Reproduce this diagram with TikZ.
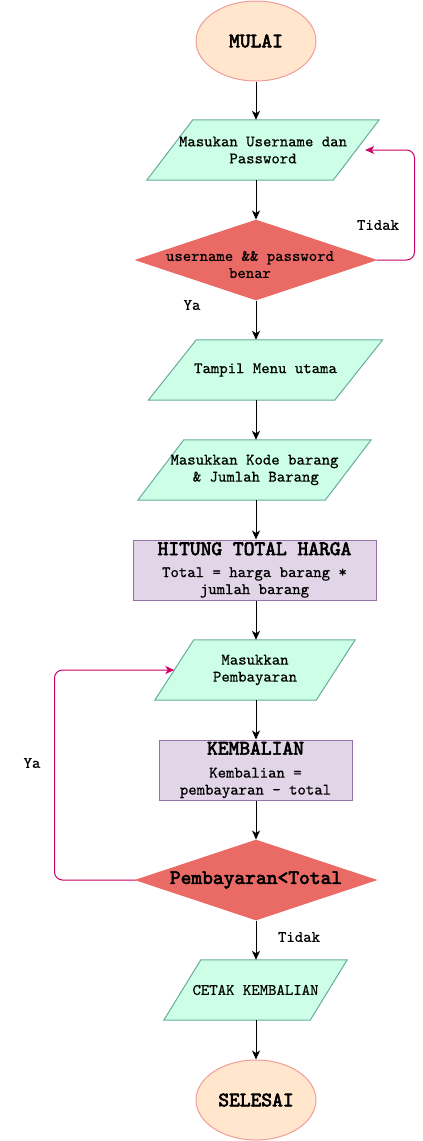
\documentclass[tikz,border=0pt]{standalone}
\usepackage{fontspec}
\newfontface\monobold{lmmono10-regular.otf}[FakeBold=3]
\newfontface\monoreg{lmmono10-regular.otf}[FakeBold=0.6]
\usetikzlibrary{shapes.geometric,arrows.meta,backgrounds}
\definecolor{ellfill}{HTML}{FFE6CC}
\definecolor{elldraw}{HTML}{F19C99}
\definecolor{parfill}{HTML}{CCFFE6}
\definecolor{pardraw}{HTML}{67AB9F}
\definecolor{diafill}{HTML}{EA6B66}
\definecolor{procfill}{HTML}{E1D5E7}
\definecolor{procdraw}{HTML}{9673A6}
\definecolor{loopcol}{HTML}{CC0066}
\newcommand\drawpara[2]{\fill[parfill,draw=pardraw,line width=1pt] ([xshift=#2/2]#1.north west) -- ([xshift=#2/2]#1.north east) -- ([xshift=-#2/2]#1.south east) -- ([xshift=-#2/2]#1.south west) -- cycle;}
\newcommand\bigbf{\monobold\fontsize{20.5}{20}\selectfont}
\begin{document}
\begin{tikzpicture}[x=1pt,y=-1pt,
  term/.style={ellipse,minimum width=120,minimum height=80,inner sep=0,fill=ellfill,draw=elldraw,line width=1pt,font=\bigbf},
  ptext/.style={rectangle,minimum height=60,inner sep=0,align=center,font=\monoreg\fontsize{16}{17}\selectfont},
  dia/.style={diamond,minimum width=240,minimum height=80,inner sep=0,fill=diafill,draw=diafill,line width=1pt},
  dtext/.style={inner sep=0,align=center,font=\monoreg\fontsize{16}{17}\selectfont},
  proc/.style={rectangle,minimum height=60,inner sep=0,align=center,fill=procfill,draw=procdraw,line width=1pt,font=\monoreg\fontsize{16}{17}\selectfont},
  lbl/.style={inner sep=0,font=\monoreg\fontsize{16}{17}\selectfont},
  arr/.style={-{Stealth[length=9pt,width=8pt,inset=2.5pt]},line width=1pt,black},
  lp/.style={-{Stealth[length=9pt,width=8pt,inset=2.5pt]},line width=1pt,loopcol,rounded corners=8pt}
]
\useasboundingbox (0,0) rectangle (423,1141);

\node[term] (start) at (256,41) {MULAI};
\node[ptext,minimum width=186] (p1) at (263,150) {\fontsize{16}{21}\selectfont Masukan Username dan\\Password};
\node[dia] (d1) at (256,260) {};
\node[dtext] (d1t) at (250,264.5) {username \&\& password\\benar};
\node[ptext,minimum width=186] (p2) at (265.5,370) {Tampil Menu utama};
\node[ptext,minimum width=187] (p3) at (254.5,470) {Masukkan Kode barang\\\,\& Jumlah Barang};
\node[proc,minimum width=243] (h) at (254.5,570) {{\bigbf HITUNG TOTAL HARGA}\\[5pt]Total = harga barang *\\jumlah barang};
\node[ptext,minimum width=161] (p4) at (255,670) {Masukkan\\Pembayaran};
\node[proc,minimum width=193] (k) at (255.5,770) {{\bigbf KEMBALIAN}\\[6pt]Kembalian =\\pembayaran - total};
\node[dia] (d2) at (256,880) {};
\node[dtext,font=\bigbf] (d2t) at (256,880) {Pembayaran<Total};
\node[ptext,minimum width=146] (p5) at (255.5,990) {CETAK KEMBALIAN};
\node[term] (end) at (256,1100) {SELESAI};

\begin{scope}[on background layer]
\drawpara{p1}{46}
\drawpara{p2}{48}
\drawpara{p3}{46}
\drawpara{p4}{39}
\drawpara{p5}{37}
\end{scope}

\node[lbl] (t1) at (378,225) {Tidak};
\node[lbl] (y1) at (192,305) {Ya};
\node[lbl] (y2) at (32,763) {Ya};
\node[lbl] (t2) at (299,937) {Tidak};

\draw[arr] (start.south) -- (start.south |- p1.north);
\draw[arr] (start.south |- p1.south) -- (d1.north);
\draw[arr] (d1.south) -- (d1.south |- p2.north);
\draw[arr] (d1.south |- p2.south) -- (d1.south |- p3.north);
\draw[arr] (d1.south |- p3.south) -- (d1.south |- h.north);
\draw[arr] (d1.south |- h.south) -- (d1.south |- p4.north);
\draw[arr] (d1.south |- p4.south) -- (d1.south |- k.north);
\draw[arr] (d1.south |- k.south) -- (d2.north);
\draw[arr] (d2.south) -- (d2.south |- p5.north);
\draw[arr] (d2.south |- p5.south) -- (end.north);

\draw[lp] (d1.east) -- ++(38,0) |- ([xshift=9]p1.east);
\draw[lp] (d2.west) -- ++(-81,0) |- (p4.west);
\end{tikzpicture}
\end{document}
